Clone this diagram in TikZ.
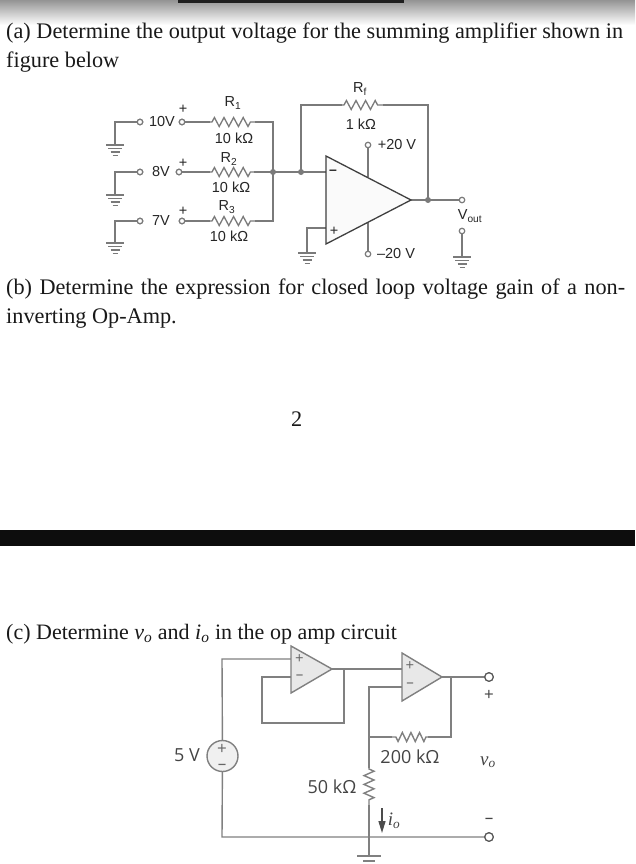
\documentclass[tikz,border=0pt]{standalone}
\usepackage{fontspec}
\setmainfont{Liberation Serif}
\newfontfamily\circa{Liberation Sans}
\newfontfamily\circc{Open Sans}
\usetikzlibrary{decorations.pathmorphing,arrows.meta}
\definecolor{wirea}{HTML}{7A7A7A}
\definecolor{wirec}{HTML}{808080}
\definecolor{labc}{HTML}{444444}
\tikzset{
  x=1pt,y=-1pt,
  prose/.style={anchor=base west,inner sep=0pt,font=\fontsize{22.25}{24}\selectfont,text=black!90},
  laba/.style={inner sep=0pt,font=\circa\fontsize{14.5}{16}\selectfont,text=black!85},
  labc/.style={inner sep=0pt,font=\circc\fontsize{18}{20}\selectfont,text=labc},
  signc/.style={inner sep=0pt,font=\circc\fontsize{17}{17}\selectfont,text=black!60},
  signo/.style={inner sep=0pt,font=\circc\fontsize{15}{15}\selectfont,text=black!60},
  mathc/.style={inner sep=0pt,font=\rmfamily\itshape\fontsize{19}{19}\selectfont,text=labc},
  wa/.style={draw=wirea,line width=1.3pt,line join=miter},
  wc/.style={draw=wirec,line width=1.4pt,line join=miter},
  resa/.style={wa,decorate,decoration={zigzag,segment length=9.6pt,amplitude=4.5pt,pre length=2pt,post length=2pt}},
  resc/.style={wc,decorate,decoration={zigzag,segment length=8.6pt,amplitude=4.5pt,pre length=2pt,post length=2pt}},
  resv/.style={wc,decorate,decoration={zigzag,segment length=8.8pt,amplitude=5pt,pre length=1pt,post length=1pt}},
  terma/.style={circle,draw=wirea,fill=white,line width=1.2pt,minimum size=5.5pt,inner sep=0pt},
  termc/.style={circle,draw=black!65,fill=white,line width=1.2pt,minimum size=8.5pt,inner sep=0pt},
  dota/.style={circle,fill=wirea,minimum size=6pt,inner sep=0pt},
  oaa/.style={draw=black!75,line width=1.3pt,fill=black!2,line join=miter},
  oac/.style={draw=wirec,line width=1.4pt,fill=black!9,line join=miter},
  gnda/.pic={
    \draw[draw=wirea,line width=1.3pt] (-9,0)--(9,0);
    \draw[draw=wirea,line width=1.3pt] (-7,3.5)--(7,3.5);
    \draw[draw=wirea,line width=1.3pt] (-4.5,7)--(4.5,7);
    \draw[draw=wirea,line width=1.3pt] (-2.5,10.5)--(2.5,10.5);
  }
}
\begin{document}
\begin{tikzpicture}
\useasboundingbox (0,0) rectangle (635,864);
\fill[white] (0,0) rectangle (635,864);
\shade[top color=black!42,bottom color=white] (0,0) rectangle (635,25);
\fill[black!88] (178,0) rectangle (404,3);
\fill[black!95] (0,530) rectangle (635,546);

% Prose
\node[prose] (ta1) at (6,38.5) {\makebox[617pt][s]{(a) Determine the output voltage for the summing amplifier shown in}};
\node[prose] (ta2) at (6,68) {figure below};
\node[prose] (tb1) at (6,294) {\makebox[619pt][s]{(b) Determine the expression for closed loop voltage gain of a non-}};
\node[prose] (tb2) at (6,323) {inverting Op-Amp.};
\node[prose] (tn) at (291,426) {2};
\node[prose,font=\fontsize{22}{24}\selectfont] (tc) at (6,639) {(c) Determine \textit{v\textsubscript{o}} and \textit{i\textsubscript{o}} in the op amp circuit};

% ---- Circuit (a)
\coordinate (g1) at (115,145);
\coordinate (g2) at (115,195);
\coordinate (g3) at (115,243);
\coordinate (c1) at (115,122);
\coordinate (c2) at (115,172);
\coordinate (c3) at (115,221);
\node[terma] (l1) at (140,122) {};
\node[terma] (l2) at (140,172) {};
\node[terma] (l3) at (140,221) {};
\node[terma] (r1) at (182,122) {};
\node[terma] (r2) at (179,172) {};
\node[terma] (r3) at (182,221) {};
\coordinate (ra1) at (210,122);
\coordinate (rb1) at (255,122);
\coordinate (ra2) at (210,172);
\coordinate (rb2) at (254,172);
\coordinate (ra3) at (210,221);
\coordinate (rb3) at (255,221);
\coordinate (bt) at (273,122);
\coordinate (bb) at (273,221);
\coordinate (inv) at (326,172);
\coordinate (ftl) at (301,105);
\coordinate (fa) at (342,105);
\coordinate (fb) at (383,105);
\coordinate (ftr) at (428,105);
\coordinate (pin) at (326,228);
\coordinate (pc) at (307,228);
\coordinate (g4) at (307,253);
\coordinate (g5) at (462,257);
\coordinate (oa) at (326,156);
\coordinate (ob) at (326,244);
\coordinate (oc) at (411,200);
\node[terma] (vo1) at (462,200) {};
\node[terma] (vo2) at (462,231) {};
\node[terma] (sp) at (368,145) {};
\node[terma] (sm) at (368,254) {};
\coordinate (spe) at (368,177);
\coordinate (sme) at (368,222);

\draw[wa] (l1)--(c1)--(g1);
\draw[wa] (l2)--(c2)--(g2);
\draw[wa] (l3)--(c3)--(g3);
\draw[wa] (r1)--(ra1);
\draw[wa] (r2)--(ra2);
\draw[wa] (r3)--(ra3);
\draw[resa] (ra1)--(rb1);
\draw[resa] (ra2)--(rb2);
\draw[resa] (ra3)--(rb3);
\draw[wa] (rb1)--(bt)--(bb)--(rb3);
\draw[wa] (rb2)--(inv);
\draw[wa] (301,172)--(ftl)--(fa);
\draw[resa] (fa)--(fb);
\draw[wa] (fb)--(ftr)--(428,200);
\draw[wa] (pin)--(pc)--(g4);
\draw[wa] (sp)--(spe);
\draw[wa] (sm)--(sme);
\draw[wa] (oc)--(vo1);
\draw[wa] (vo2)--(g5);
\path[oaa] (oa)--(ob)--(oc)--cycle;
\node[dota] (j1) at (273,172) {};
\node[dota] (j2) at (301,172) {};
\node[dota] (j3) at (428,200) {};
\pic at (g1) {gnda};
\pic at (g2) {gnda};
\pic at (g3) {gnda};
\pic at (g4) {gnda};
\pic at (g5) {gnda};
\node[terma] at (l1) {};\node[terma] at (l2) {};\node[terma] at (l3) {};
\node[terma] at (r1) {};\node[terma] at (r2) {};\node[terma] at (r3) {};

\node[laba] (v10) at (162,122) {10V};
\node[laba] (v8) at (161,172) {8V};
\node[laba] (v7) at (161,221) {7V};
\node[laba] (p1) at (183,109) {+};
\node[laba] (p2) at (183,163) {+};
\node[laba] (p3) at (183,211) {+};
\node[laba] (nr1) at (233,103) {R\textsubscript{1}};
\node[laba] (nr2) at (229,159) {R\textsubscript{2}};
\node[laba] (nr3) at (227,207) {R\textsubscript{3}};
\node[laba] (k1) at (234,138) {10 kΩ};
\node[laba] (k2) at (231,187) {10 kΩ};
\node[laba] (k3) at (229,236) {10 kΩ};
\node[laba] (nrf) at (360,89) {R\textsubscript{f}};
\node[laba] (kf) at (361,124) {1 kΩ};
\node[laba] (t20) at (397,145) {+20 V};
\node[laba] (tm20) at (396,254) {–20 V};
\node[laba] (vout) at (470,216) {V\textsubscript{out}};
\node[font=\circa\bfseries\fontsize{14}{14}\selectfont,inner sep=0pt,text=black!85] (om) at (333,172) {–};
\node[laba] (op) at (334,231) {+};

% ---- Circuit (c)
\coordinate (aa) at (291,646);
\coordinate (ab) at (291,693);
\coordinate (ac) at (332,669);
\coordinate (ba) at (402,653);
\coordinate (bb2) at (402,701);
\coordinate (bc) at (442,677);
\coordinate (ap) at (291,659);
\coordinate (am) at (291,677);
\coordinate (ltop) at (222,659);
\coordinate (lbot) at (222,837);
\coordinate (m1) at (262,677);
\coordinate (m2) at (262,723);
\coordinate (m3) at (344,723);
\coordinate (m4) at (344,669);
\coordinate (bp) at (402,669);
\coordinate (bm) at (402,687);
\coordinate (bl) at (369,687);
\coordinate (f1) at (451,677);
\coordinate (f2) at (451,737);
\coordinate (fr1) at (428,737);
\coordinate (fr2) at (392,737);
\coordinate (f3) at (369,737);
\coordinate (r50a) at (369,768);
\coordinate (r50b) at (369,805);
\coordinate (gc) at (369,856);
\coordinate (ia) at (382,808);
\coordinate (ib) at (382,833);
\node[termc] (to) at (489,677) {};
\node[termc] (tb) at (489,837) {};
\node[circle,draw=wirec,fill=black!6,line width=1.4pt,minimum size=31pt,inner sep=0pt] (src) at (222.5,756) {};

\draw[wc] (src)--(ltop)--(ap);
\draw[wc] (src)--(lbot)--(tb);
\draw[wc] (am)--(m1)--(m2)--(m3)--(m4);
\draw[wc] (ac)--(bp);
\draw[wc] (bc)--(to);
\draw[wc] (f1)--(f2)--(fr1);
\draw[resc] (fr1)--(fr2);
\draw[wc] (fr2)--(f3);
\draw[wc] (bm)--(bl)--(r50a);
\draw[resv] (r50a)--(r50b);
\draw[wc] (r50b)--(gc);
\draw[wc] (357,856)--(381,856);
\draw[wc] (363,861)--(375,861);
\path[oac] (aa)--(ab)--(ac)--cycle;
\path[oac] (ba)--(bb2)--(bc)--cycle;
\draw[draw=black!70,line width=1.5pt,-{Triangle[length=12pt,width=7pt]}] (ia)--(ib);
\node[termc] at (to) {};\node[termc] at (tb) {};

\node[labc] (s5) at (187,755) {5 V};
\node[signc] (sp2) at (222,749) {+};
\node[signc] (sm2) at (222,767) {–};
\node[signo] (ap1) at (299.5,659) {+};
\node[signo] (am1) at (299.5,677) {–};
\node[signo] (bp1) at (410,666) {+};
\node[signo] (bm1) at (410,685) {–};
\node[labc] (k200) at (410,757) {200 kΩ};
\node[labc] (k50) at (332,787) {50 kΩ};
\node[mathc] (io) at (394,821) {i\textsubscript{o}};
\node[mathc] (vo) at (488,762) {v\textsubscript{o}};
\node[signc,text=labc] (pl) at (489,695) {+};
\node[signc,text=labc] (mn) at (489,821) {–};
\end{tikzpicture}
\end{document}
